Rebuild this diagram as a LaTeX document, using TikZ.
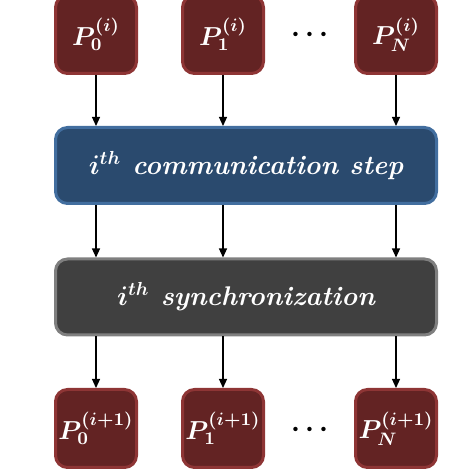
\documentclass[tikz,border=0pt]{standalone}
\usepackage{fix-cm}
\usetikzlibrary{arrows.meta}
\DeclareMathSizes{13}{13}{9}{7}
\definecolor{procfondo}{HTML}{632323}
\definecolor{procborde}{HTML}{8E3535}
\definecolor{comfondo}{HTML}{2A4A6E}
\definecolor{comborde}{HTML}{426E9F}
\definecolor{sincfondo}{HTML}{404040}
\definecolor{sincborde}{HTML}{7F7F7F}
\begin{document}
\begin{tikzpicture}[x=0.5pt,y=0.5pt,
        proc/.style={draw=procborde,fill=procfondo,line width=1.5pt,rounded corners=6pt,
            minimum width=40.5pt,minimum height=39pt,inner sep=0pt,text=white,
            font=\boldmath\fontsize{13}{15}\selectfont},
        etapa/.style={line width=1.5pt,rounded corners=6pt,minimum width=190.5pt,
            minimum height=38pt,inner sep=0pt,text=white,
            font=\boldmath\bfseries\itshape\fontsize{13.5}{16}\selectfont},
        puntos/.style={font=\boldmath\fontsize{14}{16}\selectfont},
        flecha/.style={-{Triangle[length=4.5pt,width=4pt]},line width=0.6pt}]
        \useasboundingbox (0,0) rectangle (474,474);
        \clip (0,0) rectangle (474,474);

        % Procesos (paso i)
        \node[proc] (p0) at (96,439.5) {$P_0^{(i)}$};
        \node[proc] (p1) at (223,439.5) {$P_1^{(i)}$};
        \node[proc] (pN) at (396,439.5) {$P_N^{(i)}$};
        \node[puntos] (dots1) at (310,439) {$\cdots$};

        % Etapas
        \node[etapa,draw=comborde,fill=comfondo] (com) at (246,308.5) {$i^{th}$ communication step};
        \node[etapa,draw=sincborde,fill=sincfondo] (sinc) at (246,177) {$i^{th}$ synchronization};

        % Procesos (paso i+1)
        \node[proc] (q0) at (96,45.5) {$P_0^{(i+1)}$};
        \node[proc] (q1) at (223,45.5) {$P_1^{(i+1)}$};
        \node[proc] (qN) at (396,45.5) {$P_N^{(i+1)}$};
        \node[puntos] (dots2) at (310,44) {$\cdots$};

        % Flechas
        \draw[flecha] (p0) -- (p0 |- com.north);
        \draw[flecha] (p1) -- (p1 |- com.north);
        \draw[flecha] (pN) -- (pN |- com.north);
        \draw[flecha] (com.south -| p0) -- (p0 |- sinc.north);
        \draw[flecha] (com.south -| p1) -- (p1 |- sinc.north);
        \draw[flecha] (com.south -| pN) -- (pN |- sinc.north);
        \draw[flecha] (sinc.south -| q0) -- (q0);
        \draw[flecha] (sinc.south -| q1) -- (q1);
        \draw[flecha] (sinc.south -| qN) -- (qN);
    \end{tikzpicture}
\end{document}
